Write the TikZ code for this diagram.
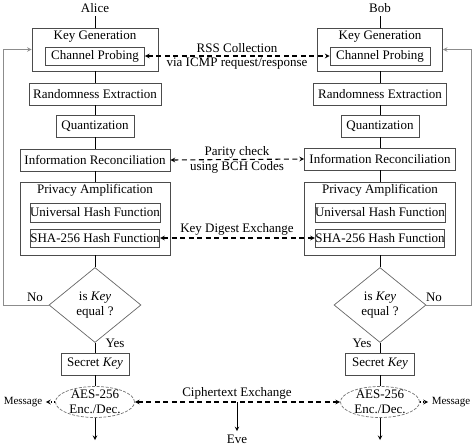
\documentclass[tikz,border=0pt]{standalone}
\usepackage{fontspec}
\setmainfont{Liberation Serif}
\usetikzlibrary{
    arrows,
    shapes,
    shapes.geometric
}
\tikzset{
    stagebox/.style={draw=black!70, line width=0.8pt, rectangle, inner sep=0pt},
    decision/.style={draw=black!60, line width=0.7pt, diamond, inner sep=0pt, align=center, minimum width=92pt, minimum height=75pt},
    cipher/.style={draw=black!55, line width=0.7pt, dash pattern=on 3pt off 1.5pt, ellipse, align=center, inner xsep=0pt, inner ysep=-3pt, minimum width=79pt, minimum height=31pt},
    flow/.style={line width=1pt, black},
    exchange/.style={<->, >=stealth, line width=1.1pt, dash pattern=on 5pt off 3.5pt},
    feedback/.style={->, >=stealth, line width=1pt, black!45},
    msgflow/.style={->, >=stealth, line width=1.2pt, dotted}
}

\begin{document}
\begin{tikzpicture}[x=1pt, y=-1pt, font=\fontsize{13}{15}\selectfont]
            \useasboundingbox (0,0) rectangle (474,447);

            \node (alice) at (95, 8) {Alice};
            \node (bob) at (380, 8) {Bob};

            \node[stagebox, minimum width=126pt, minimum height=43pt] (keygenA) at (95, 49.5) {};
            \node at (95, 37) {Key Generation};
            \node[stagebox, minimum width=99pt, minimum height=18pt] (probeA) at (95, 56) {Channel Probing};
            \node[stagebox, minimum width=132pt, minimum height=22pt] (randA) at (95, 94) {Randomness Extraction};
            \node[stagebox, minimum width=78pt, minimum height=22pt] (quantA) at (95, 126) {Quantization};
            \node[stagebox, minimum width=150pt, minimum height=22pt] (reconA) at (95, 160) {Information Reconciliation};
            \node[stagebox, minimum width=150pt, minimum height=73pt] (privA) at (95, 218.5) {};
            \node at (95, 190) {Privacy Amplification};
            \node[stagebox, minimum width=125pt, minimum height=19pt] (uhashA) at (95, 212.5) {Universal Hash Function};
            \node[stagebox, minimum width=125pt, minimum height=18pt] (shaA) at (95, 238) {SHA-256 Hash Function};
            \node[decision] (decA) at (95, 305) {is \textit{Key}\\equal ?};
            \node[stagebox, minimum width=68pt, minimum height=22pt] (keyA) at (95, 364) {Secret \textit{Key}};
            \node[cipher] (aesA) at (95, 402) {AES-256\\Enc./Dec.};
            \node[font=\fontsize{11}{13}\selectfont] (msgA) at (23, 402) {Message};

            \node[stagebox, minimum width=125pt, minimum height=43pt] (keygenB) at (380, 49.5) {};
            \node at (380, 37) {Key Generation};
            \node[stagebox, minimum width=100pt, minimum height=18pt] (probeB) at (380, 56) {Channel Probing};
            \node[stagebox, minimum width=133pt, minimum height=22pt] (randB) at (380, 94) {Randomness Extraction};
            \node[stagebox, minimum width=78pt, minimum height=22pt] (quantB) at (380, 126) {Quantization};
            \node[stagebox, minimum width=151pt, minimum height=22pt] (reconB) at (380, 159) {Information Reconciliation};
            \node[stagebox, minimum width=151pt, minimum height=73pt] (privB) at (380, 218.5) {};
            \node at (380, 190) {Privacy Amplification};
            \node[stagebox, minimum width=126pt, minimum height=19pt] (uhashB) at (380, 212.5) {Universal Hash Function};
            \node[stagebox, minimum width=126pt, minimum height=18pt] (shaB) at (380, 238) {SHA-256 Hash Function};
            \node[decision] (decB) at (380, 305) {is \textit{Key}\\equal ?};
            \node[stagebox, minimum width=69pt, minimum height=22pt] (keyB) at (380, 364) {Secret \textit{Key}};
            \node[cipher] (aesB) at (380, 402) {AES-256\\Enc./Dec.};
            \node[font=\fontsize{11}{13}\selectfont] (msgB) at (451, 402) {Message};

            \node at (35, 297) {No};
            \node at (115, 343) {Yes};
            \node at (434, 297) {No};
            \node at (362, 343) {Yes};

            \node at (237, 48) {RSS Collection};
            \node at (237, 64) {via ICMP request/response};
            \node at (237, 152) {Parity check};
            \node at (237, 167) {using BCH Codes};
            \node at (237, 229) {Key Digest Exchange};
            \node at (237, 393) {Ciphertext Exchange};
            \node (eve) at (237, 439) {Eve};
            \coordinate (tap) at (237, 402);
            \coordinate (outA) at (95, 440);
            \coordinate (outB) at (380, 440);

            \draw[flow] (alice)--(keygenA);
            \draw[flow] (keygenA)--(randA);
            \draw[flow] (randA)--(quantA);
            \draw[flow] (quantA)--(reconA);
            \draw[flow] (reconA)--(privA);
            \draw[flow] (privA)--(decA);
            \draw[flow] (decA)--(keyA);
            \draw[flow] (keyA)--(aesA);
            \draw[flow, ->, >=stealth] (aesA)--(outA);

            \draw[flow] (bob)--(keygenB);
            \draw[flow] (keygenB)--(randB);
            \draw[flow] (randB)--(quantB);
            \draw[flow] (quantB)--(reconB);
            \draw[flow] (reconB)--(privB);
            \draw[flow] (privB)--(decB);
            \draw[flow] (decB)--(keyB);
            \draw[flow] (keyB)--(aesB);
            \draw[flow, ->, >=stealth] (aesB)--(outB);

            \draw[feedback] (decA.west) -- (3, 305) |- (keygenA.west);
            \draw[feedback] (decB.east) -- (471, 305) |- (keygenB.east);

            \draw[exchange] (probeA.east)--(probeB.west);
            \draw[exchange] (reconA.east)--(reconB.west);
            \draw[exchange] (shaA.east)--(shaB.west);
            \draw[exchange] (aesA.east)--(aesB.west);
            \draw[flow, ->, >=stealth] (tap)--(eve.north);

            \draw[msgflow] (aesA.west)--(msgA.east);
            \draw[msgflow] (aesB.east)--(msgB.west);
\end{tikzpicture}
\end{document}
